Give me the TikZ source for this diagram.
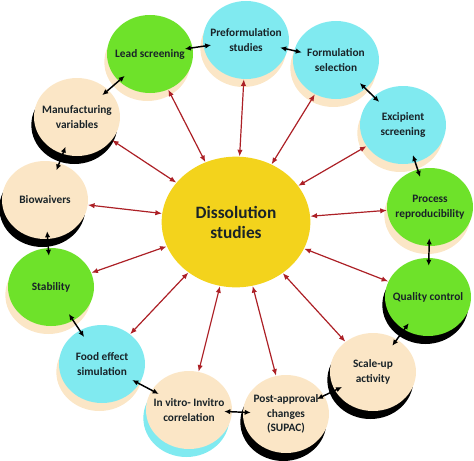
\documentclass[tikz,border=0pt]{standalone}
\usepackage{fontspec}
\setmainfont{Carlito}
\usetikzlibrary{shapes.geometric,shadows,arrows.meta}
\definecolor{cyanball}{RGB}{128,234,240}
\definecolor{greenball}{RGB}{110,226,42}
\definecolor{beigeball}{RGB}{251,230,198}
\definecolor{yellowball}{RGB}{243,211,28}
\definecolor{arrowred}{RGB}{172,32,38}
\definecolor{textdark}{RGB}{25,35,40}
\begin{document}
\begin{tikzpicture}[x=0.75pt,y=-0.75pt,
ball/.style={ellipse, minimum width=64.5pt, minimum height=58.5pt, inner sep=-12pt,
  align=center, text=textdark, font=\fontsize{8.5}{11}\selectfont\bfseries},
beigeshadow/.style={drop shadow={shadow xshift=-2pt,shadow yshift=-6pt,fill=beigeball,opacity=1}},
blackshadow/.style={drop shadow={shadow xshift=-2pt,shadow yshift=-6pt,fill=black,opacity=1}},
cyanshadow/.style={drop shadow={shadow xshift=-2pt,shadow yshift=-6pt,fill=cyanball,opacity=1}},
redarr/.style={draw=arrowred, line width=0.9pt, {Latex[length=5pt,width=4pt]}-{Latex[length=5pt,width=4pt]}},
blackarr/.style={draw=black, line width=1.1pt, {Latex[length=4.5pt,width=4pt]}-{Latex[length=4.5pt,width=4pt]},
  shorten <=-6pt, shorten >=-6pt}
]
\useasboundingbox (0,0) rectangle (474,460);
% centre
\node[ellipse, fill=yellowball, minimum width=111.5pt, minimum height=98pt, inner sep=-15pt,
  align=center, text=textdark, font=\fontsize{13}{15}\selectfont\bfseries] (diss) at (236,222) {Dissolution\\studies};
% the ring, clockwise from the top
\node[ball, fill=cyanball, beigeshadow] (pref) at (246,40) {Preformulation\\studies};
\node[ball, fill=cyanball, beigeshadow] (form) at (336,60) {Formulation\\selection};
\node[ball, fill=cyanball, beigeshadow] (excip) at (403,125) {Excipient\\screening};
\node[ball, fill=greenball, beigeshadow] (proc) at (430,207) {Process\\reproducibility};
\node[ball, fill=greenball, blackshadow] (qual) at (428,297) {Quality control};
\node[ball, fill=beigeball, blackshadow] (scale) at (373,372) {Scale-up\\activity};
\node[ball, fill=beigeball, blackshadow] (supac) at (286,414) {Post-approval\\changes\\(SUPAC)};
\node[ball, fill=beigeball, cyanshadow] (ivivc) at (189,410) {In vitro- Invitro\\correlation};
\node[ball, fill=cyanball, beigeshadow] (food) at (102,364) {Food effect\\simulation};
\node[ball, fill=greenball, beigeshadow] (stab) at (51,287) {Stability};
\node[ball, fill=beigeball, blackshadow] (biow) at (45,200) {Biowaivers};
\node[ball, fill=beigeball, blackshadow] (manuf) at (77,117) {Manufacturing\\variables};
\node[ball, fill=greenball, beigeshadow] (lead) at (150,54) {Lead screening};
% spokes
\draw[redarr] (diss) -- (pref);
\draw[redarr] (diss) -- (form);
\draw[redarr] (diss) -- (excip);
\draw[redarr] (diss) -- (proc);
\draw[redarr] (diss) -- (qual);
\draw[redarr] (diss) -- (scale);
\draw[redarr] (diss) -- (supac);
\draw[redarr] (diss) -- (ivivc);
\draw[redarr] (diss) -- (food);
\draw[redarr] (diss) -- (stab);
\draw[redarr] (diss) -- (biow);
\draw[redarr] (diss) -- (manuf);
\draw[redarr] (diss) -- (lead);
% neighbours
\draw[blackarr] (lead) -- (pref);
\draw[blackarr] (pref) -- (form);
\draw[blackarr] (form) -- (excip);
\draw[blackarr] (excip) -- (proc);
\draw[blackarr] (proc) -- (qual);
\draw[blackarr] (qual) -- (scale);
\draw[blackarr] (scale) -- (supac);
\draw[blackarr] (supac) -- (ivivc);
\draw[blackarr] (ivivc) -- (food);
\draw[blackarr] (food) -- (stab);
\draw[blackarr] (stab) -- (biow);
\draw[blackarr] (biow) -- (manuf);
\draw[blackarr] (manuf) -- (lead);
\end{tikzpicture}
\end{document}
